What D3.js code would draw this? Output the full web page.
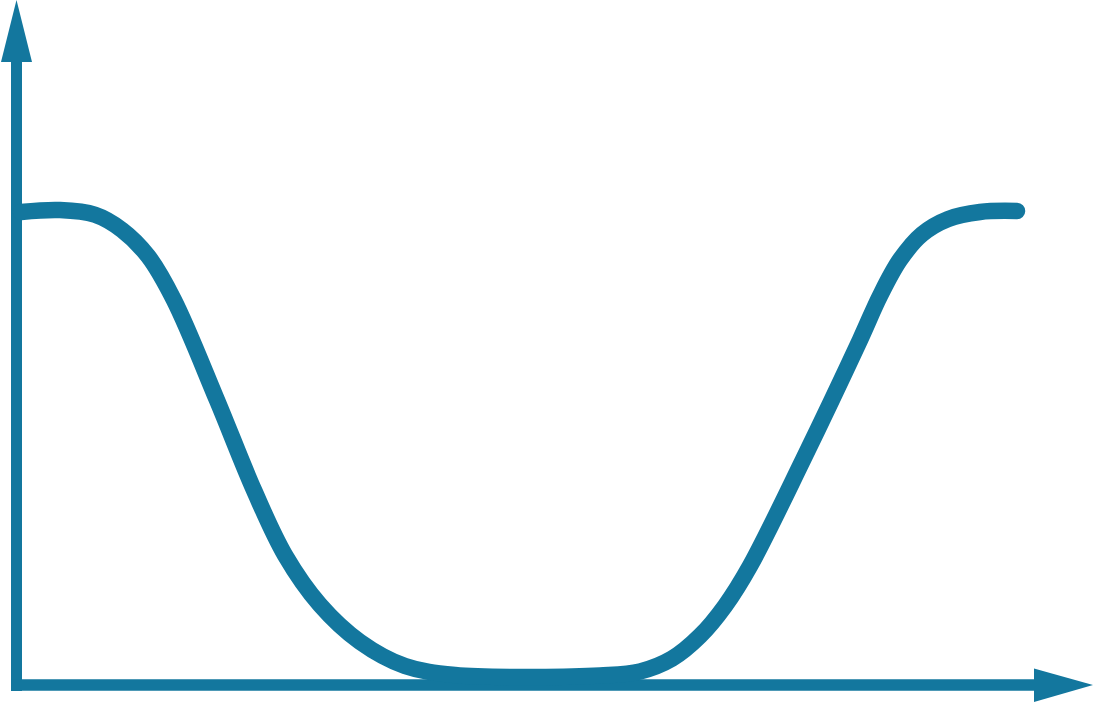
<!DOCTYPE html>
<html>
<head>
<meta charset="utf-8">
<script src="https://cdn.jsdelivr.net/npm/d3@7"></script>
<style>
  html, body { margin: 0; padding: 0; background: #ffffff; }
  svg { display: block; }
</style>
</head>
<body>
<svg id="chart" width="1093" height="703"></svg>
<script>
// Curve data (abstract units: x 0..100, y 0..100)
const xValues = [0.45, 4.35, 7.85, 10.55, 13.15, 15.75, 20.05, 23.75, 26.85, 30.35, 34.35, 38.85, 43.85, 51.35, 58.35, 62.35, 65.55, 68.35, 70.85, 73.35, 78.65, 84.35, 86.35, 88.35, 90.55, 93.15, 96.35, 100.05];
const yValues = [99.8, 100.2, 99.2, 96.0, 90.5, 81.2, 60.1, 41.1, 27.4, 16.9, 9.1, 4.0, 2.1, 1.7, 2.0, 2.85, 5.55, 10.34, 16.67, 25.1, 47.5, 72.8, 82.1, 89.7, 95.1, 98.3, 99.8, 100];

const color = "#13779e";
const svg = d3.select("#chart");

const x = d3.scaleLinear().domain([0, 100]).range([16.5, 1016.5]);
const y = d3.scaleLinear().domain([0, 100]).range([685, 211]);

const points = xValues.map((v, i) => [v, yValues[i]]);

// Axes (no ticks, thick lines with arrowheads)
const axisX0 = x(0), axisY0 = y(0);
svg.append("line")
  .attr("x1", axisX0).attr("x2", axisX0)
  .attr("y1", 691).attr("y2", 60)
  .attr("stroke", color).attr("stroke-width", 11);
svg.append("path")
  .attr("d", `M${axisX0},0 L${axisX0 + 15.5},62 L${axisX0 - 15.5},62 Z`)
  .attr("fill", color);

svg.append("line")
  .attr("x1", 11).attr("x2", 1036)
  .attr("y1", axisY0).attr("y2", axisY0)
  .attr("stroke", color).attr("stroke-width", 11.5);
svg.append("path")
  .attr("d", `M1093,${axisY0} L1034,${axisY0 - 16.5} L1034,${axisY0 + 17} Z`)
  .attr("fill", color);

// Curve
const line = d3.line()
  .x(d => x(d[0]))
  .y(d => y(d[1]))
  .curve(d3.curveCatmullRom.alpha(0.5));

svg.append("path")
  .datum(points)
  .attr("d", line)
  .attr("fill", "none")
  .attr("stroke", color)
  .attr("stroke-width", 16.5)
  .attr("stroke-linecap", "round")
  .attr("stroke-linejoin", "round");
</script>
</body>
</html>
